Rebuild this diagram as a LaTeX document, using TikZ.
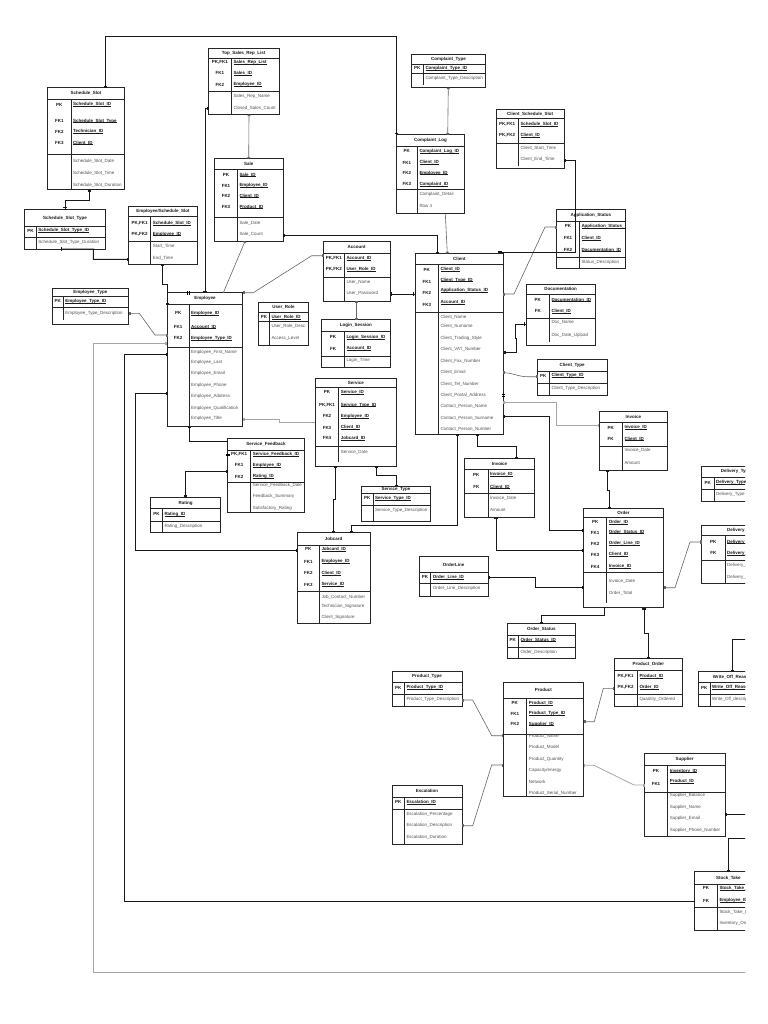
\documentclass[tikz,border=0pt]{standalone}
\usepackage{fontspec}
\setmainfont{Liberation Sans}
\usetikzlibrary{arrows.meta}
\newcounter{tx}
\newcommand\ulx[1]{\setbox0\hbox{#1}\rlap{\rule[-0.95pt]{\wd0}{0.65pt}}\box0}
\tikzset{
  box/.style={draw=black!85,line width=.95pt,inner sep=0pt,outer sep=0pt,anchor=north west},
  inner/.style={draw=black!85,line width=.85pt},
  ttl/.style={font=\fontsize{4.5}{5}\selectfont\bfseries,inner sep=0pt,text=black!90},
  kl/.style={font=\fontsize{4.5}{5}\selectfont\bfseries,inner sep=0pt,text=black!90},
  kn/.style={font=\fontsize{4.5}{5}\selectfont\bfseries,inner sep=0pt,anchor=west,text=black!90},
  an/.style={font=\fontsize{4.5}{5}\selectfont,inner sep=0pt,anchor=west,text=black!68},
  lk/.style={line width=.95pt,draw=black!90,tips},
  tn/.style={line width=.6pt,draw=black!60},
  lg/.style={line width=.8pt,draw=black!35},
  oo/.style={{Bar[width=3.5pt,line width=.6pt,sep=.7pt]Bar[width=3.5pt,line width=.6pt]}-{Square[length=1.5pt,width=2.6pt]}},
  ss/.style={{Square[length=1.5pt,width=2.6pt]}-{Square[length=1.5pt,width=2.6pt]}},
  bb/.style={{Bar[width=3.5pt,line width=.6pt,sep=.7pt]Bar[width=3.5pt,line width=.6pt]}-{Bar[width=3.5pt,line width=.6pt,sep=.7pt]Bar[width=3.5pt,line width=.6pt]}}
}
% entity: name x0 y0 x1 y1 title
\newcommand\ent[6]{%
  \def\xa{#2}\def\ya{#3}\def\xb{#4}\def\yb{#5}\def\etitle{#6}\def\ename{#1}%
  \pgfmathsetmacro\ew{#4-#2}\pgfmathsetmacro\eh{#5-#3}%
  \node[box,minimum width=\ew bp,minimum height=\eh bp] (#1) at (#2,#3) {};%
}
\newcommand\seps[4][]{%
  \def\xc{#4}%
  \def\tmp{#1}%
  \ifx\tmp\empty\def\yc{\yb}\else\def\yc{#1}\fi
  \draw[inner] (\xa,#2) -- (\xb,#2) (\xa,#3) -- (\xb,#3) (#4,#2) -- (#4,\yc);%
  \pgfmathsetmacro\tm{(\xa+\xb)/2}\pgfmathsetmacro\ym{(\ya+#2)/2}%
  \stepcounter{tx}\node[ttl] (tx\arabic{tx}) at (\tm,\ym) {\etitle};%
  \pgfmathsetmacro\kc{(\xa+\xc)/2}%
}
\newcommand\kr[4]{%
  \stepcounter{tx}\node[kl] (tx\arabic{tx}) at (\kc,#3) {#1};%
  \stepcounter{tx}\node[kn] (tx\arabic{tx}) at (\xc+2,#4) {\ulx{#2}};%
}
\newcommand\ar[2]{%
  \stepcounter{tx}\node[an] (tx\arabic{tx}) at (\xc+2,#2) {#1};%
}
\newcommand\tick[3]{% x y horizontal? double bar mark
  \ifnum#3=1 \draw[line width=.6pt,black] (#1-.8,#2-1.8) -- (#1-.8,#2+1.8) (#1+.8,#2-1.8) -- (#1+.8,#2+1.8);
  \else \draw[line width=.6pt,black] (#1-1.8,#2-.8) -- (#1+1.8,#2-.8) (#1-1.8,#2+.8) -- (#1+1.8,#2+.8);\fi
}
\begin{document}
\begin{tikzpicture}[x=1bp,y=-1bp]
\useasboundingbox (0,0) rectangle (768,1024);
\fill[white] (0,0) rectangle (768,1024);
\begin{scope}
\clip (0,0) rectangle (745,1024);

\ent{sslot}{47.7}{87.7}{124.3}{189.7}{Schedule\_Slot}
\seps{99.3}{154}{71}
\kr{PK}{Schedule\_Slot\_ID}{104.7}{104.7}
\kr{FK1}{Schedule\_Slot\_Type}{121}{121}
\kr{FK2}{Technician\_ID}{131.7}{131.7}
\kr{FK3}{Client\_ID}{143}{143}
\ar{Schedule\_Slot\_Date}{161.3}
\ar{Schedule\_Slot\_Time}{173.7}
\ar{Schedule\_Slot\_Duration}{185.7}

\ent{sst}{24.7}{209.3}{105.3}{249}{Schedule\_Slot\_Type}
\seps{226.7}{237.3}{36.3}
\kr{PK}{Schedule\_Slot\_Type\_ID}{230.5}{230.5}
\ar{Schedule\_Slot\_Type\_Duration}{242.7}

\ent{ess}{128.7}{206.7}{197.3}{264.3}{Employee/Schedule\_Slot}
\seps{216.7}{241.3}{150.7}
\kr{PK,FK1}{Schedule\_Slot\_ID}{223.3}{223.3}
\kr{PK,FK2}{Employee\_ID}{234}{234}
\ar{Start\_Time}{246}
\ar{End\_Time}{258}

\ent{tsr}{208.3}{48.3}{279}{114.7}{Top\_Sales\_Rep\_List}
\seps{58.3}{91.7}{231.3}
\kr{PK,FK1}{Sales\_Rep\_List}{62.3}{62.3}
\kr{FK1}{Sales\_ID}{73.3}{73.3}
\kr{FK2}{Employee\_ID}{84.7}{84.7}
\ar{Sales\_Rep\_Name}{96}
\ar{Closed\_Sales\_Count}{108.3}

\ent{sale}{214.7}{158.7}{283}{241.3}{Sale}
\seps{169.3}{217.7}{237.3}
\kr{PK}{Sale\_ID}{175}{175}
\kr{FK1}{Employee\_ID}{185.7}{185.7}
\kr{FK2}{Client\_ID}{196}{196}
\kr{FK3}{Product\_ID}{207}{207}
\ar{Sale\_Date}{223}
\ar{Sale\_Count}{234}

\ent{etype}{52}{288.3}{128.7}{324}{Employee\_Type}
\seps[320]{296.7}{307.7}{63.3}
\kr{PK}{Employee\_Type\_ID}{301.3}{301.3}
\ar{Employee\_Type\_Description}{313.3}

\ent{emp}{167.3}{292.7}{242.7}{426.7}{Employee}
\seps{304}{347.3}{189}
\kr{PK}{Employee\_ID}{313.3}{313.3}
\kr{FK1}{Account\_ID}{327}{327}
\kr{FK2}{Employee\_Type\_ID}{338.3}{338.3}
\ar{Employee\_First\_Name}{352.7}
\ar{Employee\_Last}{362.3}
\ar{Employee\_Email}{373.7}
\ar{Employee\_Phone}{385}
\ar{Employee\_Address}{396.3}
\ar{Employee\_Qualification}{408}
\ar{Employee\_Title}{418.3}

\ent{urole}{258.7}{302}{308.3}{345.7}{User\_Role}
\seps{312}{321.3}{269.3}
\kr{PK}{User\_Role\_ID}{317.3}{317.3}
\ar{User\_Role\_Desc}{326.7}
\ar{Access\_Level}{338.3}

\ent{sfb}{227.7}{438.3}{304.3}{512.7}{Service\_Feedback}
\seps{450}{482}{250.7}
\kr{PK,FK1}{Service\_Feedback\_ID}{454.7}{454.7}
\kr{FK1}{Employee\_ID}{465.3}{465.3}
\kr{FK2}{Rating\_ID}{476.7}{476.7}
\ar{Service\_Feedback\_Date}{485.3}
\ar{Feedback\_Summary}{496.3}
\ar{Satisfactory\_Rating}{508}

\ent{rating}{150.7}{497.3}{220.7}{532.7}{Rating}
\seps{508.7}{521.3}{162.3}
\kr{PK}{Rating\_ID}{514.3}{514.3}
\ar{Rating\_Description}{526.7}

\ent{login}{321.7}{319.7}{390}{367.3}{Login\_Session}
\seps{331.3}{356.3}{344.3}
\kr{PK}{Login\_Session\_ID}{337.3}{337.3}
\kr{FK}{Account\_ID}{348.7}{348.7}
\ar{Login\_Time}{360.3}

\ent{acct}{323.3}{241.3}{390}{301}{Account}
\seps{253.3}{277}{344.3}
\kr{PK,FK1}{Account\_ID}{258.3}{258.3}
\kr{PK,FK2}{User\_Role\_ID}{269.7}{269.7}
\ar{User\_Name}{282}
\ar{User\_Password}{293.3}

\ent{svc}{315.3}{378.7}{396.3}{466.3}{Service}
\seps[461.7]{387}{446.3}{338.7}
\kr{PK}{Service\_ID}{392.3}{392.3}
\kr{PK,FK1}{Service\_Type\_ID}{405}{405}
\kr{FK2}{Employee\_ID}{416.3}{416.3}
\kr{FK3}{Client\_ID}{427.7}{427.7}
\kr{FK4}{Jobcard\_ID}{438.3}{438.3}
\ar{Service\_Date}{452.7}

\ent{client}{415.3}{253.3}{503.3}{434}{Client}
\seps{264.3}{312.3}{438.3}
\kr{PK}{Client\_ID}{269.7}{269.7}
\kr{FK1}{Client\_Type\_ID}{282}{280}
\kr{FK2}{Application\_Status\_ID}{293.3}{290.7}
\kr{FK3}{Account\_ID}{305}{302.3}
\ar{Client\_Name}{317.3}
\ar{Client\_Surname}{326.7}
\ar{Client\_Trading\_Style}{338}
\ar{Client\_VAT\_Number}{349.7}
\ar{Client\_Fax\_Number}{361}
\ar{Client\_Email}{372.7}
\ar{Client\_Tel\_Number}{384}
\ar{Client\_Postal\_Address}{395.3}
\ar{Contact\_Person\_Name}{406.7}
\ar{Contact\_Person\_Surname}{418.3}
\ar{Contact\_Person\_Number}{429.7}

\ent{ctype}{411.3}{54.7}{485.7}{87.7}{Complaint\_Type}
\seps[85]{64}{73.3}{423.3}
\kr{PK}{Complaint\_Type\_ID}{68.3}{68.3}
\ar{Complaint\_Type\_Description}{78.3}

\ent{clog}{396.3}{134.7}{464.7}{213.7}{Complaint\_Log}
\seps{146.7}{189.7}{417.3}
\kr{PK}{Complaint\_Log\_ID}{151.3}{151.3}
\kr{FK1}{Client\_ID}{162.7}{162.7}
\kr{FK2}{Employee\_ID}{173}{173}
\kr{FK3}{Complaint\_ID}{184.3}{184.3}
\ar{Complaint\_Detail}{194.7}
\ar{Row 4}{206}

\ent{css}{496}{109.7}{564.3}{168.3}{Client\_Schedule\_Slot}
\seps[166]{118.3}{143}{518.3}
\kr{PK,FK1}{Schedule\_Slot\_ID}{124.3}{124.3}
\kr{PK,FK2}{Client\_ID}{135.7}{135.7}
\ar{Client\_Start\_Time}{148}
\ar{Client\_End\_Time}{159.3}

\ent{appst}{556.7}{209.7}{625}{268.3}{Application\_Status}
\seps{221}{257.3}{579.3}
\kr{PK}{Application\_Status\_}{226.3}{226.3}
\kr{FK1}{Client\_ID}{238.3}{238.3}
\kr{FK2}{Documentation\_ID}{250}{250}
\ar{Status\_Description}{262.3}

\ent{doc}{526.3}{284.3}{595}{345.7}{Documentation}
\seps[341.7]{294.3}{318.3}{549.3}
\kr{PK}{Documentation\_ID}{300}{300}
\kr{FK}{Client\_ID}{311.3}{311.3}
\ar{Doc\_Name}{322.7}
\ar{Doc\_Date\_Upload}{335}

\ent{cltype}{537.3}{359}{607}{395.3}{Client\_Type}
\seps{371.7}{383}{549.3}
\kr{PK}{Client\_Type\_ID}{375.7}{375.7}
\ar{Client\_Type\_Description}{388.3}

\ent{invr}{599}{411}{667.7}{470.3}{Invoice}
\seps{422.3}{446.7}{622.3}
\kr{PK}{Invoice\_ID}{427.7}{427.7}
\kr{FK}{Client\_ID}{439}{439}
\ar{Invoice\_Date}{450.3}
\ar{Amount}{463}

\ent{invm}{464.7}{458}{534.3}{517}{Invoice}
\seps{469.7}{493.7}{488}
\kr{PK}{Invoice\_ID}{474.7}{474.7}
\kr{FK}{Client\_ID}{487}{487}
\ar{Invoice\_Date}{498.3}
\ar{Amount}{509.7}

\ent{dtype}{701.7}{466}{770}{501.7}{Delivery\_Type}
\seps{477.3}{489}{714}
\kr{PK}{Delivery\_Type\_ID}{482.7}{482.7}
\ar{Delivery\_Type}{494}

\ent{deliv}{701.7}{525.7}{770}{583.7}{Delivery}
\seps{535.7}{560.3}{725}
\kr{PK}{Delivery\_ID}{542}{542}
\kr{FK}{Delivery\_Type\_ID}{553.3}{553.3}
\ar{Delivery\_Date}{565}
\ar{Delivery\_Status}{577.3}

\ent{order}{583.7}{508.7}{663.3}{607.3}{Order}
\seps[603.3]{517.7}{572.3}{606.7}
\kr{PK}{Order\_ID}{522.3}{522.3}
\kr{FK1}{Order\_Status\_ID}{532.7}{532}
\kr{FK2}{Order\_Line\_ID}{544}{543.3}
\kr{FK3}{Client\_ID}{555.3}{554.7}
\kr{FK4}{Invoice\_ID}{566.7}{566.3}
\ar{Invoice\_Date}{581.7}
\ar{Order\_Total}{593}

\ent{oline}{419.3}{556.7}{488}{596}{OrderLine}
\seps{572.3}{583.3}{430.7}
\kr{PK}{Order\_Line\_ID}{577.3}{577.3}
\ar{Order\_Line\_Description}{588.7}

\ent{ostat}{507}{623.3}{575.7}{658.3}{Order\_Status}
\seps{635.7}{647.3}{518.3}
\kr{PK}{Order\_Status\_ID}{640}{640}
\ar{Order\_Description}{652.3}

\ent{porder}{614}{658.7}{682.7}{706.3}{Product\_Order}
\seps{670}{694.7}{637.3}
\kr{PK,FK1}{Product\_ID}{676.3}{676.3}
\kr{PK,FK2}{Order\_ID}{687.7}{687.7}
\ar{Quantity\_Ordered}{699}

\ent{woff}{698.7}{671}{766}{706.3}{Write\_Off\_Reason}
\seps{682.3}{694}{710}
\kr{PK}{Write\_Off\_Reason\_ID}{687.7}{687.7}
\ar{Write\_Off\_description}{699}

\ent{prod}{503}{682.3}{583.7}{796.7}{Product}
\seps{698.3}{734.3}{526.7}
\kr{PK}{Product\_ID}{703.3}{703.3}
\kr{FK1}{Product\_Type\_ID}{713.7}{713.7}
\kr{FK2}{Supplier\_ID}{724}{724}
\ar{Product\_Name}{736.3}
\ar{Product\_Model}{747.7}
\ar{Product\_Quantity}{759}
\ar{Capacity/energy}{770.7}
\ar{Network}{782}
\ar{Product\_Serial\_Number}{793.3}

\ent{ptype}{392}{671}{462}{706.3}{Product\_Type}
\seps{682.3}{694}{404.3}
\kr{PK}{Product\_Type\_ID}{687.7}{687.7}
\ar{Product\_Type\_Description}{699}

\ent{esc}{392}{785.7}{462}{844.3}{Escalation}
\seps{797}{809.3}{404.3}
\kr{PK}{Escalation\_ID}{802.3}{802.3}
\ar{Escalation\_Percentage}{814.3}
\ar{Escalation\_Description}{825.7}
\ar{Escalation\_Duration}{837}

\ent{job}{297.3}{532.7}{370}{623.3}{Jobcard}
\seps{545}{591.7}{319.3}
\kr{PK}{Jobcard\_ID}{549.3}{549.3}
\kr{FK1}{Employee\_ID}{561.7}{561.7}
\kr{FK2}{Client\_ID}{573.3}{573.3}
\kr{FK3}{Service\_ID}{584.7}{584.7}
\ar{Job\_Contact\_Number}{597}
\ar{Technician\_Signature}{606.3}
\ar{Client\_Signature}{617.7}

\ent{stype}{361.7}{486}{430.3}{521}{Service\_Type}
\seps{493.3}{505}{373}
\kr{PK}{Service\_Type\_ID}{498.3}{498.3}
\ar{Service\_Type\_Description}{510}

\ent{supp}{644.3}{753.3}{725}{836}{Supplier}
\seps{765.7}{792.7}{667.7}
\kr{PK}{Inventory\_ID}{771}{771}
\kr{FK1}{Product\_ID}{784}{781.7}
\ar{Supplier\_Balance}{795.7}
\ar{Supplier\_Name}{807}
\ar{Supplier\_Email}{818.3}
\ar{Supplier\_Phone\_Number}{830}

\ent{stake}{694.7}{871.7}{762}{930.7}{Stock\_Take}
\seps{884}{907}{717.3}
\kr{PK}{Stock\_Take\_ID}{888.3}{888.3}
\kr{FK}{Employee\_ID}{900.7}{900.7}
\ar{Stock\_Take\_Date}{912}
\ar{Inventory\_On\_Hand}{923.3}

% free ends past the cut page edge
\coordinate (edgeA) at (750,814.3);
\coordinate (edgeB) at (750,838.7);
\coordinate (edgeC) at (750,639.3);
\coordinate (edgeD) at (750,972.7);

% connectors
\draw[lk,oo] (clog.north -| 396.5,0) -- (396.5,36.7) -- (105,36.7) -- (sslot.north -| 105,0);
\draw[lk,bb] (sslot.south -| 89.3,0) -- (89.3,200) -- (65,200) -- (sst.north -| 65,0);
\draw[lk,oo] (sst.south -| 60,0) -- (93.3,249) -- (93.3,259.3) -- (ess.west |- 0,259.3);
\draw[lk,oo] (emp.west |- 0,305) -- (167.3,284.3) -- (162.7,284.3) -- (ess.south -| 162.7,0);
\draw[lk,oo] (emp.north -| 205,0) -- (205,108.3) -- (tsr.west |- 0,108.3);
\draw[tn,ss] (tsr.south -| 249,0) -- (sale.north -| 248.7,0);
\draw[tn,-{Square[length=1.5pt,width=2.6pt]}] (emp.north -| 223.3,0) -- (sale.south -| 245,0);
\draw[lk,ss] (client.north -| 437.7,0) -- (437.7,235.5) -- (sale.east |- 0,235.5);
\draw[tn,ss] (emp.north east) -- (253.3,292.7) -- (311.7,255.7) -- (acct.west |- 0,255.7);
\draw[tn,ss] (etype.east |- 0,313.3) -- (139.3,313.3) -- (155,335) -- (emp.west |- 0,335);
\draw[lg,bb] (emp.west |- 0,343.3) -- (93.3,343.3) -- (93.3,972.7) -- (edgeD);
\draw[lk,{Square[length=1.5pt,width=2.6pt]}-] (emp.west |- 0,354) -- (124.7,354) -- (124.7,901.7) -- (stake.west |- 0,901.7);
\draw[lk,ss] (emp.west |- 0,393.3) -- (135.7,393.3) -- (135.7,550.3) -- (job.west |- 0,550.3);
\draw[lk,{Square[length=1.5pt,width=2.6pt]}-] (emp.south -| 189,0) -- (189,441.3) -- (sfb.west |- 0,441.3);
\draw[lk,bb] (rating.north -| 185.7,0) -- (185.7,471.3) -- (sfb.west |- 0,471.3);
\draw[lg,{Bar[width=3.5pt,line width=.6pt,sep=.7pt]Bar[width=3.5pt,line width=.6pt]}-] (emp.east |- 0,419.3) -- (279.3,419.3) -- (279.3,422.3) -- (svc.west |- 0,422.3);
\draw[lk,ss] (svc.south -| 335.7,0) -- (335.7,499.3) -- (333.3,499.3) -- (job.north -| 333.3,0);
\draw[lk,ss] (svc.south -| 376,0) -- (376,475.7) -- (396,475.7) -- (stype.north -| 396,0);
\draw[lk,ss] (client.south -| 457.3,0) -- (457.3,525) -- (351.7,525) -- (job.north -| 351.7,0);
\draw[lk,ss] (client.south -| 477.7,0) -- (477.7,446.7) -- (516.7,446.7) -- (invm.north -| 516.7,0);
\draw[lk,bb] (acct.east |- 0,294) -- (client.west |- 0,294);
\draw[tn,ss] (acct.south -| 356,0) -- (login.north -| 356,0);
\draw[tn,ss] (client.east |- 0,294) -- (514,294) -- (545,227) -- (appst.west |- 0,227);
\draw[lk,bb] (client.east |- 0,352.7) -- (516.7,352.7) -- (516.7,338.7) -- (515.3,338.7) -- (515.3,324) -- (doc.west |- 0,324);
\draw[tn,ss] (client.east |- 0,372.7) .. controls (512,372.7) and (518,376.7) .. (527.3,376.7) -- (cltype.west |- 0,376.7);
\draw[lg,ss] (client.east |- 0,402.7) -- (556.7,402.7) -- (556.7,425) -- (invr.west |- 0,425);
\draw[lk,ss] (client.east |- 0,416.3) -- (549.3,416.3) -- (549.3,530.7) -- (order.west |- 0,530.7);
\draw[lk,oo] (invm.south -| 496,0) -- (496,550) -- (order.west |- 0,550);
\draw[lk,ss] (invr.south -| 607.7,0) -- (607.7,490) -- (609.3,490) -- (order.north -| 609.3,0);
\draw[lk,ss] (oline.east |- 0,577.7) -- (535.3,577.7) -- (535.3,587.7) -- (order.west |- 0,587.7);
\draw[lk,-{Square[length=1.5pt,width=2.6pt]}] (order.south -| 604,0) -- (604,615.7) -- (541,615.7) -- (ostat.north -| 541,0);
\draw[lk,bb] (order.south -| 644,0) -- (644,633.3) -- (648.3,633.3) -- (porder.north -| 648.3,0);
\draw[tn,bb] (order.east |- 0,587.7) -- (675,587.7) -- (690,542) -- (deliv.west |- 0,542);
\draw[tn,oo] (prod.east |- 0,721.7) -- (594.3,721.7) -- (603.3,688.3) -- (porder.west |- 0,688.3);
\draw[tn,ss] (ptype.east |- 0,700) -- (472.7,700) -- (491.7,735.7) -- (prod.west |- 0,735.7);
\draw[tn,ss] (esc.east |- 0,825.7) -- (472.7,825.7) -- (491.7,765) -- (prod.west |- 0,765);
\draw[lg,ss] (prod.east |- 0,765.3) -- (594,765.3) -- (634,785) -- (supp.west |- 0,785);
\draw[lk,{Square[length=1.5pt,width=2.6pt]}-] (supp.east |- 0,814.3) -- (edgeA);
\draw[lk,{Square[length=1.5pt,width=2.6pt]}-] (stake.north -| 728.7,0) -- (728.7,838.7) -- (edgeB);
\draw[lk,{Square[length=1.5pt,width=2.6pt]}-] (woff.north -| 732.3,0) -- (732.3,639.3) -- (edgeC);
\draw[tn,ss] (ctype.south -| 448.3,0) -- (clog.north -| 447.7,0);
\draw[tn,-{Square[length=1.5pt,width=2.6pt]}] (clog.south -| 445.3,0) -- (client.north -| 447.3,0);
\draw[lk,oo] (client.north -| 500,0) -- (500,252.5) -- (575.7,252.5) -- (575.7,160) -- (css.east |- 0,160);
\tick{188}{292.7}{1}
\tick{227.7}{454.7}{0}
\tick{503.3}{395}{0}
\end{scope}
\end{tikzpicture}
\end{document}
